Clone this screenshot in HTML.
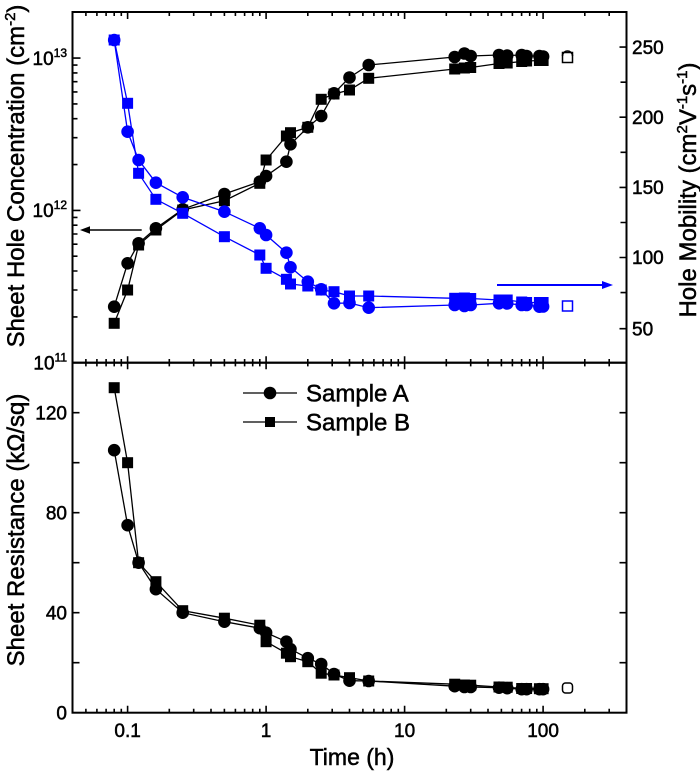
<!DOCTYPE html>
<html><head><meta charset="utf-8"><style>
html,body{margin:0;padding:0;background:#fff;}
svg{display:block;}
text{font-family:"Liberation Sans",Arial,sans-serif;fill:#000;stroke:#000;stroke-width:0.5;}
</style></head><body>
<svg width="700" height="773" viewBox="0 0 700 773" xmlns="http://www.w3.org/2000/svg">
<defs>
<circle id="c" cx="0" cy="0" r="6.3"/>
<rect id="s" x="-5.5" y="-5.5" width="11" height="11"/>
</defs>
<rect width="700" height="773" fill="#fff"/>

<!-- frames -->
<g fill="none" stroke="#000" stroke-width="2">
<rect x="72.5" y="12" width="554" height="350.7"/>
<rect x="72.5" y="362.7" width="554" height="350"/>
</g>

<!-- ticks -->
<g stroke="#000" stroke-width="1.6" fill="none">
<path d="M127.6 712.7v-7M266.1 712.7v-7M404.6 712.7v-7M543.1 712.7v-7"/>
<path d="M85.9 712.7v-4M96.9 712.7v-4M106.1 712.7v-4M114.2 712.7v-4M121.3 712.7v-4M169.3 712.7v-4M193.7 712.7v-4M211 712.7v-4M224.4 712.7v-4M235.4 712.7v-4M244.6 712.7v-4M252.7 712.7v-4M259.8 712.7v-4M307.8 712.7v-4M332.2 712.7v-4M349.5 712.7v-4M362.9 712.7v-4M373.9 712.7v-4M383.1 712.7v-4M391.2 712.7v-4M398.3 712.7v-4M446.3 712.7v-4M470.7 712.7v-4M488 712.7v-4M501.4 712.7v-4M512.4 712.7v-4M521.6 712.7v-4M529.7 712.7v-4M536.8 712.7v-4M584.8 712.7v-4M609.2 712.7v-4"/>
<path d="M127.6 12v7M266.1 12v7M404.6 12v7M543.1 12v7"/>
<path d="M85.9 12v4M96.9 12v4M106.1 12v4M114.2 12v4M121.3 12v4M169.3 12v4M193.7 12v4M211 12v4M224.4 12v4M235.4 12v4M244.6 12v4M252.7 12v4M259.8 12v4M307.8 12v4M332.2 12v4M349.5 12v4M362.9 12v4M373.9 12v4M383.1 12v4M391.2 12v4M398.3 12v4M446.3 12v4M470.7 12v4M488 12v4M501.4 12v4M512.4 12v4M521.6 12v4M529.7 12v4M536.8 12v4M584.8 12v4M609.2 12v4"/>
<path d="M127.6 356.2v13M266.1 356.2v13M404.6 356.2v13M543.1 356.2v13"/>
<path d="M85.9 359v7.4M96.9 359v7.4M106.1 359v7.4M114.2 359v7.4M121.3 359v7.4M169.3 359v7.4M193.7 359v7.4M211 359v7.4M224.4 359v7.4M235.4 359v7.4M244.6 359v7.4M252.7 359v7.4M259.8 359v7.4M307.8 359v7.4M332.2 359v7.4M349.5 359v7.4M362.9 359v7.4M373.9 359v7.4M383.1 359v7.4M391.2 359v7.4M398.3 359v7.4M446.3 359v7.4M470.7 359v7.4M488 359v7.4M501.4 359v7.4M512.4 359v7.4M521.6 359v7.4M529.7 359v7.4M536.8 359v7.4M584.8 359v7.4M609.2 359v7.4"/>
<path d="M72.5 58.1h8M72.5 210.4h8"/>
<path d="M72.5 316.9h5M72.5 290h5M72.5 271h5M72.5 256.2h5M72.5 244.2h5M72.5 234h5M72.5 225.2h5M72.5 217.4h5M72.5 164.6h5M72.5 137.7h5M72.5 118.7h5M72.5 103.9h5M72.5 91.9h5M72.5 81.7h5M72.5 72.9h5M72.5 65.1h5"/>
<path d="M626.5 47.1h-7M626.5 117.2h-7M626.5 187.4h-7M626.5 257.5h-7M626.5 328.7h-7"/>
<path d="M626.5 82.2h-6M626.5 152.3h-6M626.5 222.5h-6M626.5 292.6h-6"/>
<path d="M72.5 412.7h7M72.5 462.7h7M72.5 512.7h7M72.5 562.7h7M72.5 612.7h7M72.5 662.7h7"/>
<path d="M626.5 412.7h-7M626.5 462.7h-7M626.5 512.7h-7M626.5 562.7h-7M626.5 612.7h-7M626.5 662.7h-7"/>
</g>

<!-- tick labels -->
<g font-size="19">
<text x="67" y="64.8" text-anchor="end">10<tspan dy="-8" font-size="12">13</tspan></text>
<text x="67" y="217.1" text-anchor="end">10<tspan dy="-8" font-size="12">12</tspan></text>
<text x="67" y="369.4" text-anchor="end">10<tspan dy="-8" font-size="12">11</tspan></text>
<text x="632" y="53.8">250</text>
<text x="632" y="123.9">200</text>
<text x="632" y="194.1">150</text>
<text x="632" y="264.2">100</text>
<text x="632" y="335.4">50</text>
<text x="67" y="419.4" text-anchor="end">120</text>
<text x="67" y="519.4" text-anchor="end">80</text>
<text x="67" y="619.4" text-anchor="end">40</text>
<text x="67" y="719.4" text-anchor="end">0</text>
<text x="127.6" y="737" text-anchor="middle">0.1</text>
<text x="266.1" y="737" text-anchor="middle">1</text>
<text x="404.6" y="737" text-anchor="middle">10</text>
<text x="543.1" y="737" text-anchor="middle">100</text>
</g>

<!-- axis titles -->
<text x="352" y="765" font-size="23" text-anchor="middle">Time (h)</text>
<text transform="translate(24,176) rotate(-90)" font-size="24" text-anchor="middle">Sheet Hole Concentration (cm<tspan dy="-9" font-size="15">-2</tspan><tspan dy="9">)</tspan></text>
<text transform="translate(24,530) rotate(-90)" font-size="24" text-anchor="middle">Sheet Resistance (kΩ/sq)</text>
<text transform="translate(696,190) rotate(-90)" font-size="24" text-anchor="middle">Hole Mobility (cm<tspan dy="-9" font-size="15">2</tspan><tspan dy="9">V</tspan><tspan dy="-9" font-size="15">-1</tspan><tspan dy="9">s</tspan><tspan dy="-9" font-size="15">-1</tspan><tspan dy="9">)</tspan></text>

<!-- arrows -->
<g>
<line x1="141.7" y1="230" x2="88" y2="230" stroke="#000" stroke-width="1.5"/>
<polygon points="80,230 90,226.3 90,233.7" fill="#000"/>
<line x1="497" y1="285" x2="605" y2="285" stroke="#0000ff" stroke-width="2"/>
<polygon points="613,285 602,281 602,289" fill="#0000ff"/>
</g>

<!-- TOP PANEL: black concentration -->
<g fill="none" stroke="#000" stroke-width="1.3">
<polyline points="114.2,306.7 127.6,263.3 138.6,243.3 155.9,228.3 182.7,209.3 224.4,194 259.8,181.7 266.1,176 286.4,161.7 290.5,144.3 307.8,127.3 321.2,116 334,93.3 349.5,77.5 368.7,65 454.7,57 464.4,53.5 470.7,56 499,55 507.2,55.5 521.7,55 526.6,56 539.4,56 543.1,56.5"/>
<polyline points="114.2,323.3 127.6,290 138.6,245 155.9,230 182.7,210 224.4,200.7 259.8,183.3 266.1,160 286.4,136 290.5,132.7 307.8,127.3 321.2,99.3 334,94 349.5,90 368.7,78.3 454.7,69 464.4,68 470.7,67.5 499,63.5 507.2,63 521.7,61.5 526.6,61 539.4,60.5 543.1,60.5"/>
</g>
<g fill="#000">
<use href="#c" x="114.2" y="306.7"/><use href="#c" x="127.6" y="263.3"/><use href="#c" x="138.6" y="243.3"/><use href="#c" x="155.9" y="228.3"/><use href="#c" x="182.7" y="209.3"/><use href="#c" x="224.4" y="194"/><use href="#c" x="259.8" y="181.7"/><use href="#c" x="266.1" y="176"/><use href="#c" x="286.4" y="161.7"/><use href="#c" x="290.5" y="144.3"/><use href="#c" x="307.8" y="127.3"/><use href="#c" x="321.2" y="116"/><use href="#c" x="334" y="93.3"/><use href="#c" x="349.5" y="77.5"/><use href="#c" x="368.7" y="65"/><use href="#c" x="454.7" y="57"/><use href="#c" x="464.4" y="53.5"/><use href="#c" x="470.7" y="56"/><use href="#c" x="499" y="55"/><use href="#c" x="507.2" y="55.5"/><use href="#c" x="521.7" y="55"/><use href="#c" x="526.6" y="56"/><use href="#c" x="539.4" y="56"/><use href="#c" x="543.1" y="56.5"/>
<use href="#s" x="114.2" y="323.3"/><use href="#s" x="127.6" y="290"/><use href="#s" x="138.6" y="245"/><use href="#s" x="155.9" y="230"/><use href="#s" x="182.7" y="210"/><use href="#s" x="224.4" y="200.7"/><use href="#s" x="259.8" y="183.3"/><use href="#s" x="266.1" y="160"/><use href="#s" x="286.4" y="136"/><use href="#s" x="290.5" y="132.7"/><use href="#s" x="307.8" y="127.3"/><use href="#s" x="321.2" y="99.3"/><use href="#s" x="334" y="94"/><use href="#s" x="349.5" y="90"/><use href="#s" x="368.7" y="78.3"/><use href="#s" x="454.7" y="69"/><use href="#s" x="464.4" y="68"/><use href="#s" x="470.7" y="67.5"/><use href="#s" x="499" y="63.5"/><use href="#s" x="507.2" y="63"/><use href="#s" x="521.7" y="61.5"/><use href="#s" x="526.6" y="61"/><use href="#s" x="539.4" y="60.5"/><use href="#s" x="543.1" y="60.5"/>
</g>
<g fill="#fff" stroke="#000" stroke-width="1.5">
<rect x="562.5" y="52.5" width="10" height="10"/>
<path d="M562.5 56 A5 5 0 0 1 572.5 56" fill="none"/>
</g>

<!-- TOP PANEL: blue mobility -->
<g fill="none" stroke="#0000ff" stroke-width="1.3">
<polyline points="114.2,40 127.6,131.7 138.6,160 155.9,182.7 182.7,197.3 224.4,211.7 259.8,228.3 266.1,235 286.4,252.7 290.5,267.3 307.8,281.7 321.2,289.3 334,303.3 349.5,303 368.7,307.7 454.7,305 464.4,306 470.7,305 499,303.3 507.2,303.5 521.7,305 526.6,305 539.4,306.7 543.1,306.5"/>
<polyline points="114.2,40 127.6,103.3 138.6,173.3 155.9,199.3 182.7,213.3 224.4,236.7 259.8,255 266.1,268.3 286.4,279.3 290.5,284 307.8,286 321.2,290 334,291.7 349.5,296 368.7,296 454.7,298.3 464.4,298 470.7,298.5 499,300 507.2,300 521.7,302 526.6,302.5 539.4,302.5 543.1,302.5"/>
</g>
<g fill="#0000ff">
<use href="#c" x="114.2" y="40"/><use href="#c" x="127.6" y="131.7"/><use href="#c" x="138.6" y="160"/><use href="#c" x="155.9" y="182.7"/><use href="#c" x="182.7" y="197.3"/><use href="#c" x="224.4" y="211.7"/><use href="#c" x="259.8" y="228.3"/><use href="#c" x="266.1" y="235"/><use href="#c" x="286.4" y="252.7"/><use href="#c" x="290.5" y="267.3"/><use href="#c" x="307.8" y="281.7"/><use href="#c" x="321.2" y="289.3"/><use href="#c" x="334" y="303.3"/><use href="#c" x="349.5" y="303"/><use href="#c" x="368.7" y="307.7"/><use href="#c" x="454.7" y="305"/><use href="#c" x="464.4" y="306"/><use href="#c" x="470.7" y="305"/><use href="#c" x="499" y="303.3"/><use href="#c" x="507.2" y="303.5"/><use href="#c" x="521.7" y="305"/><use href="#c" x="526.6" y="305"/><use href="#c" x="539.4" y="306.7"/><use href="#c" x="543.1" y="306.5"/>
<use href="#s" x="114.2" y="40"/><use href="#s" x="127.6" y="103.3"/><use href="#s" x="138.6" y="173.3"/><use href="#s" x="155.9" y="199.3"/><use href="#s" x="182.7" y="213.3"/><use href="#s" x="224.4" y="236.7"/><use href="#s" x="259.8" y="255"/><use href="#s" x="266.1" y="268.3"/><use href="#s" x="286.4" y="279.3"/><use href="#s" x="290.5" y="284"/><use href="#s" x="307.8" y="286"/><use href="#s" x="321.2" y="290"/><use href="#s" x="334" y="291.7"/><use href="#s" x="349.5" y="296"/><use href="#s" x="368.7" y="296"/><use href="#s" x="454.7" y="298.3"/><use href="#s" x="464.4" y="298"/><use href="#s" x="470.7" y="298.5"/><use href="#s" x="499" y="300"/><use href="#s" x="507.2" y="300"/><use href="#s" x="521.7" y="302"/><use href="#s" x="526.6" y="302.5"/><use href="#s" x="539.4" y="302.5"/><use href="#s" x="543.1" y="302.5"/>
</g>
<rect x="562.5" y="301" width="10" height="10" fill="#fff" stroke="#0000ff" stroke-width="1.5"/>

<!-- BOTTOM PANEL: sheet resistance -->
<g fill="none" stroke="#000" stroke-width="1.3">
<polyline points="114.2,450.2 127.6,525.2 138.6,562.7 155.9,589.2 182.7,612.7 224.4,621.7 259.8,628.2 266.1,632.7 286.4,641.7 290.5,649.2 307.8,658.2 321.2,664 334,674 349.5,680.7 368.7,681 454.7,686.2 464.4,687 470.7,687 499,687.7 507.2,688.2 521.7,689.2 526.6,689.2 539.4,689.2 543.1,689.2"/>
<polyline points="114.2,387.7 127.6,462.7 138.6,562.7 155.9,581.7 182.7,610.7 224.4,618.2 259.8,625.2 266.1,641.7 286.4,653.2 290.5,656.7 307.8,661.7 321.2,673.2 334,675 349.5,677.7 368.7,681 454.7,684.2 464.4,685 470.7,685.2 499,687 507.2,687.2 521.7,688.5 526.6,688.5 539.4,688.7 543.1,688.7"/>
</g>
<g fill="#000">
<use href="#c" x="114.2" y="450.2"/><use href="#c" x="127.6" y="525.2"/><use href="#c" x="138.6" y="562.7"/><use href="#c" x="155.9" y="589.2"/><use href="#c" x="182.7" y="612.7"/><use href="#c" x="224.4" y="621.7"/><use href="#c" x="259.8" y="628.2"/><use href="#c" x="266.1" y="632.7"/><use href="#c" x="286.4" y="641.7"/><use href="#c" x="290.5" y="649.2"/><use href="#c" x="307.8" y="658.2"/><use href="#c" x="321.2" y="664"/><use href="#c" x="334" y="674"/><use href="#c" x="349.5" y="680.7"/><use href="#c" x="368.7" y="681"/><use href="#c" x="454.7" y="686.2"/><use href="#c" x="464.4" y="687"/><use href="#c" x="470.7" y="687"/><use href="#c" x="499" y="687.7"/><use href="#c" x="507.2" y="688.2"/><use href="#c" x="521.7" y="689.2"/><use href="#c" x="526.6" y="689.2"/><use href="#c" x="539.4" y="689.2"/><use href="#c" x="543.1" y="689.2"/>
<use href="#s" x="114.2" y="387.7"/><use href="#s" x="127.6" y="462.7"/><use href="#s" x="138.6" y="562.7"/><use href="#s" x="155.9" y="581.7"/><use href="#s" x="182.7" y="610.7"/><use href="#s" x="224.4" y="618.2"/><use href="#s" x="259.8" y="625.2"/><use href="#s" x="266.1" y="641.7"/><use href="#s" x="286.4" y="653.2"/><use href="#s" x="290.5" y="656.7"/><use href="#s" x="307.8" y="661.7"/><use href="#s" x="321.2" y="673.2"/><use href="#s" x="334" y="675"/><use href="#s" x="349.5" y="677.7"/><use href="#s" x="368.7" y="681"/><use href="#s" x="454.7" y="684.2"/><use href="#s" x="464.4" y="685"/><use href="#s" x="470.7" y="685.2"/><use href="#s" x="499" y="687"/><use href="#s" x="507.2" y="687.2"/><use href="#s" x="521.7" y="688.5"/><use href="#s" x="526.6" y="688.5"/><use href="#s" x="539.4" y="688.7"/><use href="#s" x="543.1" y="688.7"/>
</g>
<g fill="#fff" stroke="#000" stroke-width="1.5">
<rect x="562.5" y="683" width="10" height="10" rx="3"/>
</g>

<!-- legend -->
<g stroke="#000" stroke-width="1.3">
<line x1="243" y1="393" x2="297" y2="393"/>
<line x1="243" y1="422" x2="297" y2="422"/>
</g>
<circle cx="270" cy="393" r="6.3" fill="#000"/>
<rect x="265" y="417" width="10" height="10" fill="#000"/>
<text x="306" y="401.5" font-size="24">Sample A</text>
<text x="306" y="430.5" font-size="24">Sample B</text>
</svg>
</body></html>
